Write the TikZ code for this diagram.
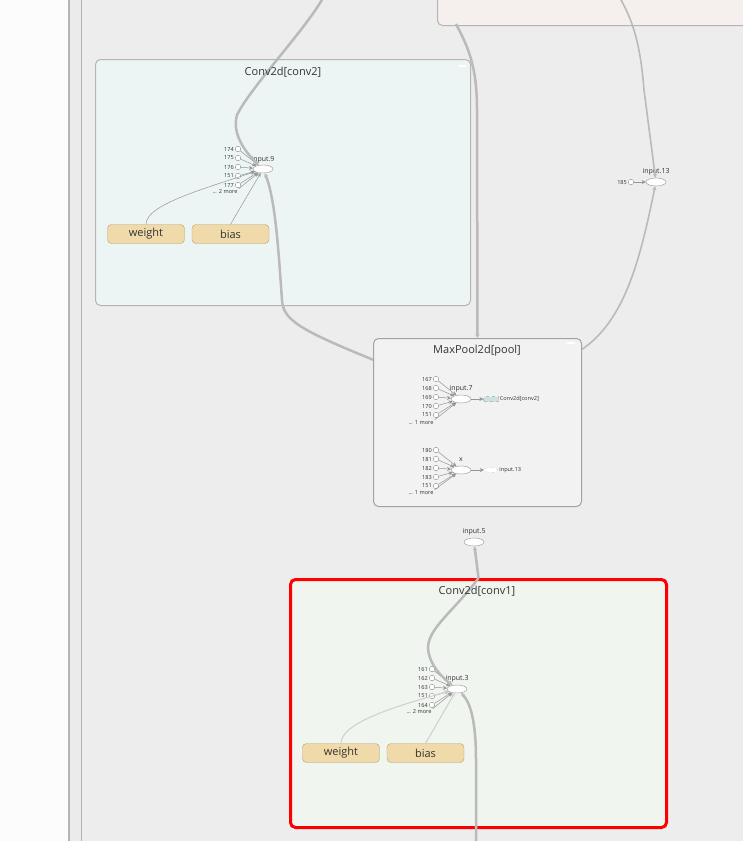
\documentclass[tikz,border=0pt]{standalone}
\usepackage{fontspec}
\setmainfont{Open Sans}
\usetikzlibrary{shapes.geometric,arrows.meta}
\definecolor{sfondo}{HTML}{EDEDED}
\definecolor{bianco}{HTML}{FCFCFC}
\definecolor{striscia}{HTML}{EBEBEB}
\definecolor{bordo}{HTML}{B4B4B4}
\definecolor{rosato}{HTML}{F5F0ED}
\definecolor{azzurro}{HTML}{EDF5F4}
\definecolor{verdino}{HTML}{F0F5EF}
\definecolor{parfill}{HTML}{F0DAA9}
\definecolor{parbordo}{HTML}{B59F74}
\definecolor{arco}{HTML}{BABABA}
\definecolor{opbordo}{HTML}{8E8E8E}
\definecolor{testo}{HTML}{333333}
\definecolor{tealino}{HTML}{C9E3E0}
\begin{document}
\begin{tikzpicture}[x=1pt,y=-1pt,>={Stealth[length=4pt,width=4pt]},
    gruppo/.style={draw=bordo,rounded corners=5pt,line width=1pt,inner sep=0pt},
    titolo/.style={font=\fontsize{11}{13}\selectfont,text=testo},
    op/.style={ellipse,draw=opbordo,fill=white,minimum width=20pt,minimum height=8pt,inner sep=0pt},
    cost/.style={circle,draw=opbordo,fill=white,minimum size=5.5pt,inner sep=0pt},
    param/.style={rectangle,rounded corners=4pt,draw=parbordo,fill=parfill,minimum width=77pt,minimum height=19pt,inner sep=0pt,font=\fontsize{11}{13}\selectfont,text=testo},
    num/.style={font=\fontsize{5.6}{6}\selectfont,text=testo,inner sep=1pt},
    etic/.style={font=\fontsize{7}{8}\selectfont,text=testo,inner sep=0pt},
    spesso/.style={draw=arco,line width=2.5pt},
    medio/.style={draw=arco,line width=1.6pt},
    sottile/.style={draw=arco!80!black,line width=0.5pt},
    leggero/.style={draw=arco!70,line width=1pt},
  ]
    % sfondo
    \useasboundingbox (0,0) rectangle (743,841);
    \clip (0,0) rectangle (743,841);
    \fill[sfondo] (0,0) rectangle (743,841);
    \fill[bianco] (0,0) rectangle (68,841);
    \fill[striscia] (68,0) rectangle (82,841);
    \draw[bordo,line width=1.5pt] (69,0) -- (69,841);
    \draw[bordo,line width=1pt] (81.5,0) -- (81.5,841);

    % gruppo in alto
    \node[gruppo,fill=rosato,minimum width=360pt,minimum height=60pt,anchor=south west] (alto) at (437,26) {};

    % Conv2d[conv2]
    \node[gruppo,fill=azzurro,minimum width=375pt,minimum height=246pt,anchor=north west] (conv2) at (95,59) {};
    \draw[white,line width=1.5pt] (459,66) -- (466,66);
    \node[op] (in9) at (263,169) {};
    \node[etic] (l9) at (263,160) {input.9};
    \foreach \n [count=\i] in {174,175,176,151,177} {
        \node[cost] (c9\i) at (238,{140+9*\i}) {};
        \node[num,left] (n9\i) at (c9\i.west) {\n};
        \draw[sottile,->] (c9\i) -- (in9);
    }
    \node[num] (m9) at (225,192) {... 2 more};
    \draw[sottile,->] (m9.north east) -- (in9);
    \node[param] (w9) at (146,234) {weight};
    \node[param] (b9) at (230.5,234) {bias};
    \draw[sottile,->] (w9.north) .. controls (146,205) and (200,190) .. (in9);
    \draw[sottile,->] (b9.north) -- (in9);

    % MaxPool2d[pool]
    \node[gruppo,fill=sfondo!70!white,draw=bordo!90!black,minimum width=208pt,minimum height=168pt,anchor=north west] (pool) at (373,338) {};
    \draw[white,line width=1.5pt] (567,343) -- (575,343);
    \node[op] (in7) at (461,399) {};
    \node[etic] (l7) at (461,389) {input.7};
    \foreach \n [count=\i] in {167,168,169,170,151} {
        \node[cost] (c7\i) at (436,{370+9*\i}) {};
        \node[num,left] (n7\i) at (c7\i.west) {\n};
        \draw[sottile,->] (c7\i) -- (in7);
    }
    \node[num] (m7) at (421,423) {... 1 more};
    \draw[sottile,->] (m7.north east) -- (in7);
    \node[draw=arco,dashed,fill=tealino,minimum width=15pt,minimum height=5pt,inner sep=0pt] (o7) at (491,399) {};
    \node[num,right] (lo7) at (o7.east) {Conv2d[conv2]};
    \draw[sottile,->] (in7) -- (o7);
    \node[op] (ex) at (461,470) {};
    \node[etic] (lx) at (461,460) {x};
    \foreach \n [count=\i] in {180,181,182,183,151} {
        \node[cost] (cx\i) at (436,{441+9*\i}) {};
        \node[num,left] (nx\i) at (cx\i.west) {\n};
        \draw[sottile,->] (cx\i) -- (ex);
    }
    \node[num] (mx) at (421,493) {... 1 more};
    \draw[sottile,->] (mx.north east) -- (ex);
    \node[ellipse,draw=arco!60,dashed,fill=white,minimum width=14pt,minimum height=5pt,inner sep=0pt] (ox) at (491,470) {};
    \node[num,right] (lox) at (ox.east) {input.13};
    \draw[sottile,->] (ex) -- (ox);

    % input.13
    \node[op] (in13) at (656,182) {};
    \node[etic] (l13) at (656,172) {input.13};
    \node[cost] (c185) at (631,182) {};
    \node[num,left] (n185) at (c185.west) {185};
    \draw[sottile,->] (c185) -- (in13);

    % input.5
    \node[op] (in5) at (474,542) {};
    \node[etic] (l5) at (474,532) {input.5};

    % Conv2d[conv1]
    \node[gruppo,fill=verdino,draw=red,line width=3pt,minimum width=376pt,minimum height=248pt,anchor=north west] (conv1) at (289,578) {};
    \node[op] (in3) at (457,689) {};
    \node[etic] (l3) at (457,679) {input.3};
    \foreach \n [count=\i] in {161,162,163,151,164} {
        \node[cost] (c3\i) at (432,{660+9*\i}) {};
        \node[num,left] (n3\i) at (c3\i.west) {\n};
        \draw[sottile,->] (c3\i) -- (in3);
    }
    \node[num] (m3) at (419,712) {... 2 more};
    \draw[sottile,->] (m3.north east) -- (in3);
    \node[param] (w3) at (341,753) {weight};
    \node[param] (b3) at (425.5,753) {bias};
    \draw[leggero,->] (w3.north) .. controls (341,722) and (400,705) .. (in3);
    \draw[leggero,->] (b3.north) -- (in3);

    % archi tra i gruppi
    \coordinate (su1) at (323,-2);
    \coordinate (su2) at (456,24);
    \coordinate (su3) at (620,-2);
    \coordinate (giu) at (476,843);
    \draw[spesso,->] (su1) .. controls (305,30) and (250,88) .. (237,115)
        .. controls (231,135) and (248,155) .. (in9);
    \draw[spesso,->] (pool.149) .. controls (300,330) and (283,320) .. (282,300)
        .. controls (279,260) and (276,200) .. (in9);
    \draw[spesso,->] (su2) .. controls (470,50) and (477,70) .. (477,110) -- (pool.north);
    \draw[medio,->] (su3) .. controls (632,20) and (640,40) .. (644,90) -- (in13);
    \draw[medio,->] (pool.35) .. controls (625,320) and (640,260) .. (in13);
    \draw[spesso,->] (conv1.north) -- (in5);
    \draw[spesso,->] (conv1.north) .. controls (455,610) and (428,628) .. (428,648)
        .. controls (429,665) and (443,678) .. (in3);
    \draw[spesso,->] (giu) -- (476,760) .. controls (476,720) and (470,702) .. (in3);

    % titoli
    \node[titolo] (t2) at (283,72) {Conv2d[conv2]};
    \node[titolo] (tp) at (477,351) {MaxPool2d[pool]};
    \node[titolo] (t1) at (477,591) {Conv2d[conv1]};
\end{tikzpicture}
\end{document}
